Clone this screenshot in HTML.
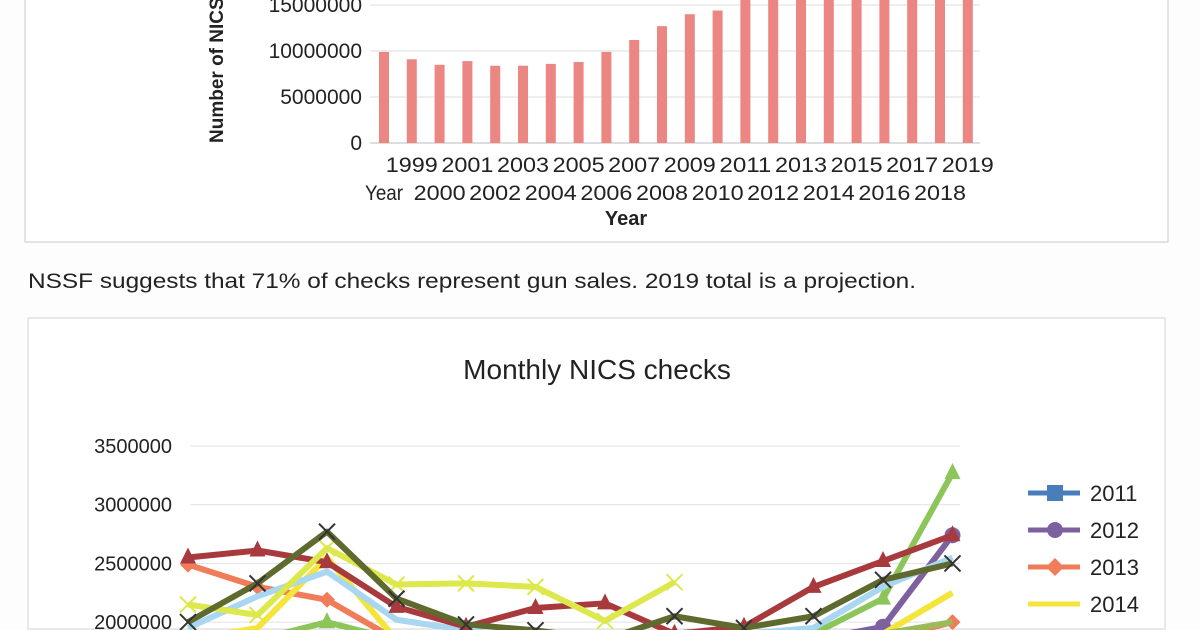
<!DOCTYPE html>
<html><head><meta charset="utf-8"><style>
html,body{margin:0;padding:0;background:#fff;overflow:hidden;}
svg{display:block;font-family:"Liberation Sans",sans-serif;}
</style></head><body>
<svg width="1200" height="630" viewBox="0 0 1200 630">
<rect x="0" y="0" width="1200" height="630" fill="#fdfdfd"/>
<rect x="25" y="-10" width="1143" height="252" fill="#fff" stroke="#c8c8c8"/>
<text x="28" y="288" font-size="21" fill="#222" textLength="888" lengthAdjust="spacingAndGlyphs">NSSF suggests that 71% of checks represent gun sales. 2019 total is a projection.</text>
<rect x="28" y="318" width="1137" height="311" fill="#fff" stroke="#d4d4d4"/>
<text x="597" y="379" font-size="28" text-anchor="middle" fill="#222">Monthly NICS checks</text>
<g id="topchart"></g>
<g id="bottomchart"></g>
</svg>
<script>
const yearCats=["Year","1999","2000","2001","2002","2003","2004","2005","2006","2007","2008","2009","2010","2011","2012","2013","2014","2015","2016","2017","2018","2019"];
const yearVals=[9.9,9.1,8.5,8.9,8.4,8.4,8.6,8.8,9.9,11.2,12.7,14.0,14.4,16.5,19.6,21.1,20.9,23.1,27.5,25.2,26.2,28.0];
const yearTicks=[0,5000000,10000000,15000000];

const months=["Jan","Feb","Mar","Apr","May","Jun","Jul","Aug","Sep","Oct","Nov","Dec"];
const s2011=[1.40,1.45,1.65,1.40,1.30,1.25,1.20,1.30,1.45,1.55,1.75,1.80];
const s2012=[1.45,1.60,1.75,1.50,1.40,1.35,1.30,1.50,1.60,1.70,1.96,2.74];
const s2013=[2.49,2.30,2.19,1.80,1.55,1.45,1.40,1.55,1.60,1.65,1.80,2.00];
const s2014=[1.70,1.95,2.55,1.80,1.65,1.60,1.55,1.70,1.75,1.70,1.90,2.25];
const s2015=[1.75,1.70,1.90,1.70,1.60,1.55,1.50,1.70,1.75,1.80,1.90,2.00];
const s2016=[2.55,2.61,2.51,2.13,1.96,2.12,2.16,1.90,1.96,2.30,2.52,2.74];
const s2017=[1.80,1.85,2.00,1.70,1.65,1.60,1.55,1.75,1.80,1.90,2.20,3.27];
const s2018=[1.95,2.22,2.43,2.02,1.93,1.85,1.80,1.80,1.90,1.95,2.30,2.55];
const s2019=[2.00,2.33,2.77,2.20,1.98,1.93,1.85,2.05,1.95,2.05,2.36,2.50];
const s2020=[2.15,2.06,2.63,2.32,2.33,2.30,2.01,2.34,null,null,null,null];
const monthTicks=[2000000,2500000,3000000,3500000];
const legendYears=["2011","2012","2013","2014","2015"];

const NS="http://www.w3.org/2000/svg";
function mk(tag,attrs,parent){const e=document.createElementNS(NS,tag);for(const k in attrs)e.setAttribute(k,attrs[k]);parent.appendChild(e);return e;}

const topG=document.getElementById('topchart');
const ty=v=>143-v*46/5000000;
const tx=i=>384+i*27.8;
yearTicks.forEach(t=>{
  const l=mk('line',{x1:370,x2:980,y1:ty(t),y2:ty(t),stroke:t===0?'#bbb':'#ddd','stroke-width':1},topG);
  
  
  const tt=mk('text',{x:362,y:ty(t)+7,'font-size':21,'text-anchor':'end',fill:'#222'},topG);
  tt.textContent=String(t);
  
  
});
yearVals.forEach((v,i)=>{
  const y=ty(v*1000000);
  const r=mk('rect',{x:tx(i)-5,y:y,width:10,height:143-y,fill:'#ec8682'},topG);
  
  
  const w=i===0?38:52;
  const lab=mk('text',{x:tx(i)-w/2,y:i%2?172:200,'font-size':21,fill:'#222',textLength:w,lengthAdjust:'spacingAndGlyphs'},topG);
  lab.textContent=yearCats[i];
  
  
});
const xt=mk('text',{x:626,y:225,'font-size':20,'font-weight':'bold','text-anchor':'middle',fill:'#222'},topG);
xt.textContent='Year';


const yt=mk('text',{x:0,y:0,'font-size':19,'font-weight':'bold','text-anchor':'start',fill:'#222',transform:'translate(223,143) rotate(-90)'},topG);
yt.textContent='Number of NICS checks';



const botG=document.getElementById('bottomchart');
const my=v=>446+(3500000-v)*58.7/500000;
const mx=i=>188+i*69.5;
monthTicks.forEach(t=>{
  const l=mk('line',{x1:190,x2:960,y1:my(t),y2:my(t),stroke:'#e2e2e2','stroke-width':1},botG);
  
  
  const tt=mk('text',{x:172,y:my(t)+7,'font-size':20,'text-anchor':'end',fill:'#222'},botG);
  tt.textContent=String(t);
  
  
});
const series=[
  ["2011",s2011,'#4a7ebb','square'],
  ["2012",s2012,'#7d60a0','circle'],
  ["2013",s2013,'#f07c5a','diamond'],
  ["2014",s2014,'#f5e43a','none'],
  ["2015",s2015,'#9bbb59','none'],
  ["2017",s2017,'#8cc65a','tri'],
  ["2018",s2018,'#a9d6f0','none'],
  ["2016",s2016,'#a83a3e','tri'],
  ["2020",s2020,'#dde84c','star'],
  ["2019",s2019,'#5e6a2e','x']
];
series.forEach(([name,vals,col,mark])=>{
  let d='';
  vals.forEach((v,i)=>{if(v==null)return;d+=(d?'L':'M')+mx(i)+','+Math.min(my(v*1000000),640);});
  const p=mk('path',{d:d,fill:'none',stroke:col,'stroke-width':6,'stroke-linejoin':'round'},botG);
  
  
  vals.forEach((v,i)=>{
    if(v==null||mark==='none')return;
    const x=mx(i),y=my(v*1000000);
    if(y>640)return;
    let m;
    if(mark==='circle')m=mk('circle',{cx:x,cy:y,r:8,fill:col},botG);
    else if(mark==='square')m=mk('rect',{x:x-6,y:y-6,width:12,height:12,fill:col},botG);
    else if(mark==='diamond')m=mk('path',{d:`M${x},${y-8}L${x+8},${y}L${x},${y+8}L${x-8},${y}Z`,fill:col},botG);
    else if(mark==='tri')m=mk('path',{d:`M${x},${y-10}L${x+8},${y+6}L${x-8},${y+6}Z`,fill:col},botG);
    else m=mk('path',{d:`M${x-8},${y-8}L${x+8},${y+8}M${x+8},${y-8}L${x-8},${y+8}`,stroke:mark==='x'?'#333':col,'stroke-width':2},botG);
    
    
  });
});
const legCols={"2011":['#4a7ebb','square'],"2012":['#7d60a0','circle'],"2013":['#f07c5a','diamond'],"2014":['#f5e43a','none'],"2015":['#9bbb59','none']};
legendYears.forEach((yr,i)=>{
  const y=493+i*37;const [col,mark]=legCols[yr];
  const g=mk('g',{},botG);
  
  
  mk('line',{x1:1028,x2:1080,y1:y,y2:y,stroke:col,'stroke-width':5},g);
  if(mark==='square')mk('rect',{x:1047,y:y-8,width:16,height:16,fill:col},g);
  if(mark==='circle')mk('circle',{cx:1055,cy:y,r:8,fill:col},g);
  if(mark==='diamond')mk('path',{d:`M1055,${y-9}L1064,${y}L1055,${y+9}L1046,${y}Z`,fill:col},g);
  const t=mk('text',{x:1090,y:y+8,'font-size':22,fill:'#222'},g);
  t.textContent=yr;
});
</script>
</body></html>
